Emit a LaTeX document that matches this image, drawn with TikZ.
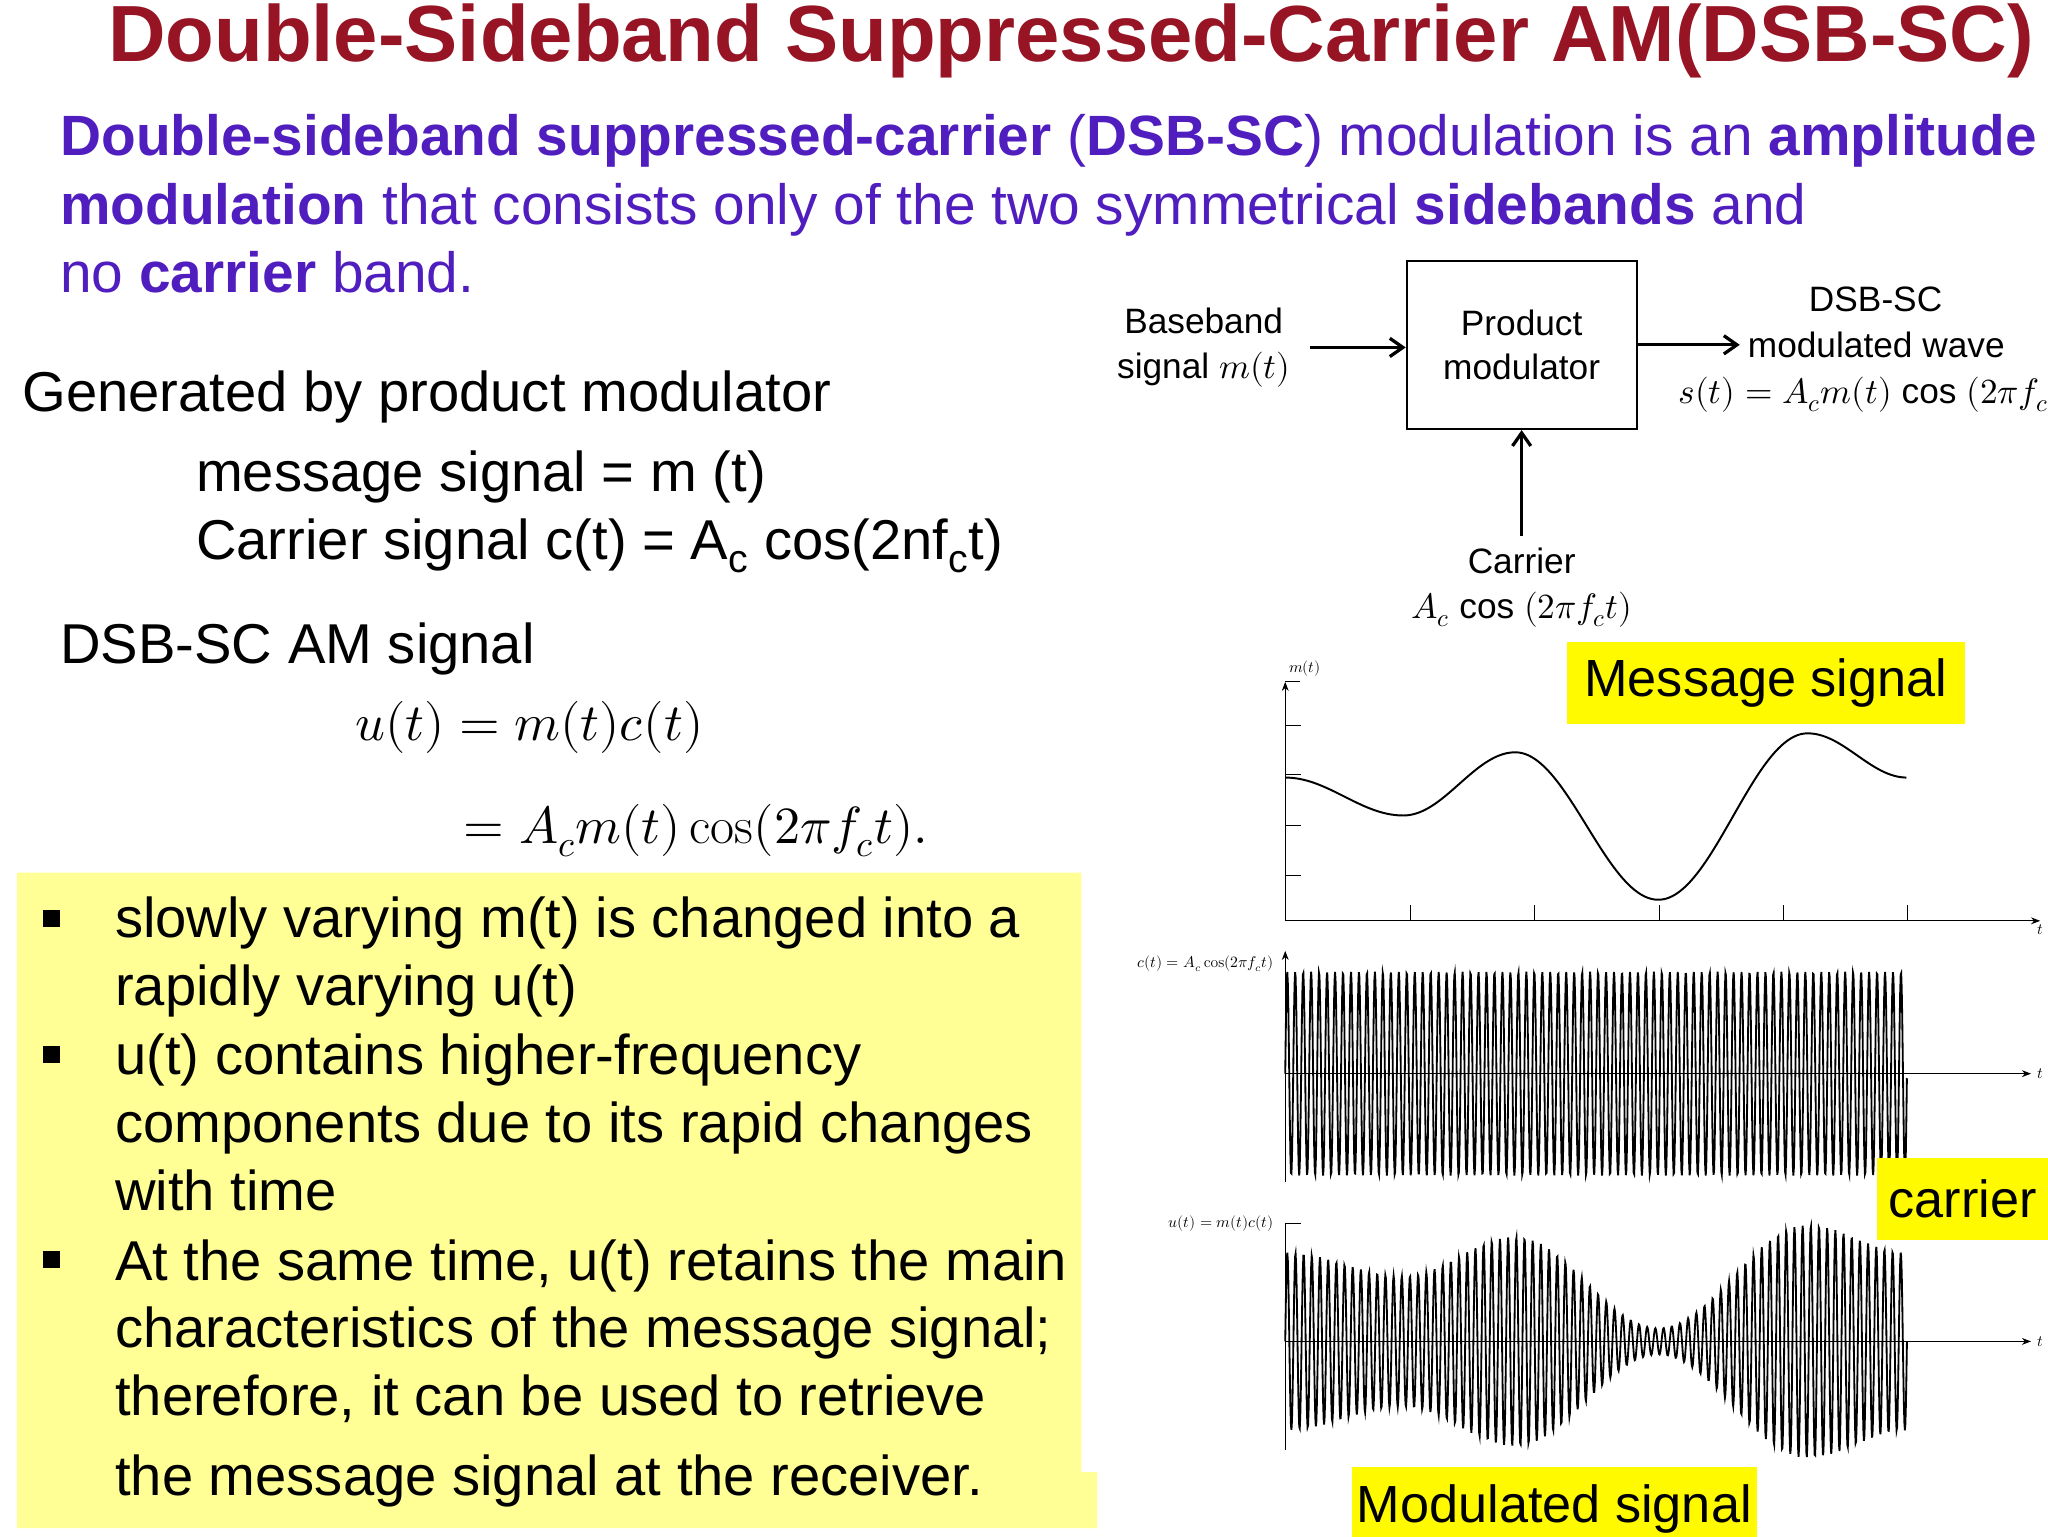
\documentclass[tikz,border=0pt]{standalone}
\usepackage{fontspec}
\usepackage{unicode-math}
\setmainfont{Liberation Sans}
\setmathfont{Latin Modern Math}
\setmathrm{Latin Modern Roman}
\usetikzlibrary{arrows.meta}
\definecolor{ttl}{RGB}{150,20,35}
\definecolor{pur}{RGB}{80,30,190}
\definecolor{ylw}{RGB}{255,255,150}
\definecolor{ylw2}{RGB}{255,250,0}
\tikzset{
  body/.style={anchor=base west,font=\fontsize{43}{50}\selectfont,inner sep=0},
  ptxt/.style={body,text=pur,font=\fontsize{43.5}{50}\selectfont},
  blk/.style={font=\fontsize{27}{34}\selectfont,align=center,inner sep=0},
  tag/.style={fill=ylw2,font=\fontsize{40}{46}\selectfont,inner sep=0,minimum height=63pt},
  small/.style={font=\fontsize{12}{14}\selectfont,inner sep=0},
  arr/.style={-{Straight Barb[length=10pt,width=14pt]},line width=2.5pt},
  ax/.style={-{Stealth[length=7pt]},line width=0.8pt}
}
\pgfmathdeclarefunction{ci}{3}{\pgfmathparse{#1+(#2-#1)*(1-cos(180*#3))/2}}
\pgfmathdeclarefunction{env}{1}{\pgfmathparse{(#1<0.19)?ci(68,50,#1/0.19):((#1<0.37)?ci(50,80,(#1-0.19)/0.18):((#1<0.6)?ci(80,10,(#1-0.37)/0.23):((#1<0.84)?ci(10,89,(#1-0.6)/0.24):ci(89,68,(#1-0.84)/0.16))))}}
\begin{document}
\begin{tikzpicture}[x=1pt,y=-1pt]
\useasboundingbox (0,0) rectangle (1568,1176);
% title
\node[anchor=base,text=ttl,font=\fontsize{61}{68}\selectfont\bfseries,inner sep=0] (title) at (820,47) {Double-Sideband Suppressed-Carrier AM(DSB-SC)};
% paragraph
\node[ptxt] (p1) at (46,119) {\textbf{Double-sideband suppressed-carrier} (\textbf{DSB-SC}) modulation is an \textbf{amplitude}};
\node[ptxt] (p2) at (46,172) {\textbf{modulation} that consists only of the two symmetrical \textbf{sidebands} and};
\node[ptxt] (p3) at (46,224) {no \textbf{carrier} band.};
\node[body] (g1) at (17,315) {Generated by product modulator};
\node[body] (g2) at (150,376) {message signal = m (t)};
\node[body] (g3) at (150,428) {Carrier signal c(t) = A\textsubscript{c} cos(2nf\textsubscript{c}t)};
\node[body] (g4) at (46,508) {DSB-SC AM signal};
\node[anchor=base west,inner sep=0,font=\fontsize{40}{48}\selectfont] (e1) at (272,567) {$u(t)=m(t)c(t)$};
\node[anchor=base west,inner sep=0,font=\fontsize{40}{48}\selectfont] (e2) at (355,646) {$=A_cm(t)\,\mathrm{cos}(2\pi f_ct).$};
% yellow box
\fill[ylw] (13,668) -- (828,668) -- (828,1127) -- (840,1127) -- (840,1170) -- (13,1170) -- cycle;
\foreach \y/\t in {718/{slowly varying m(t) is changed into a},770/{rapidly varying u(t)},823/{u(t) contains higher-frequency},875/{components due to its rapid changes},927/{with time},980/{At the same time, u(t) retains the main},1032/{characteristics of the message signal;},1084/{therefore, it can be used to retrieve},1145/{the message signal at the receiver.}}
  \node[body] at (88,\y) {\t};
\foreach \y in {704,808,965} \fill (33,\y-7) rectangle (46,\y+6);
% block diagram
\node[draw,line width=1.5pt,minimum width=176pt,minimum height=129pt,blk] (pm) at (1165,264) {Product\\modulator};
\node[blk,anchor=east] (bb) at (988,266) {Baseband\\signal $m(t)$};
\coordinate (bbs) at (1003,266);
\draw[arr] (bbs) -- (pm.west |- bbs);
\coordinate (oe) at (1332,264);
\draw[arr] (pm.east |- oe) -- (oe);
\node[blk,anchor=west] (out) at (1338,264) {modulated wave};
\node[blk] (out1) at (1436,229) {DSB-SC};
\node[blk,anchor=west] (out2) at (1285,302) {$s(t)=A_cm(t)$ cos $(2\pi f_c$};
\node[blk] (car) at (1165,450) {Carrier\\$A_c$ cos $(2\pi f_ct)$};
\coordinate (cs) at (1165,410);
\draw[arr] (cs) -- (pm.south);
% message plot
\node[tag,minimum width=305pt] (ms) at (1352,523) {Message signal};
\node[small] (ml) at (999,512) {$m(t)$};
\draw[ax] (984,705) -- (984,522);
\draw[line width=0.6pt] (984,522) -- (995,522);
\draw[ax] (984,705) -- (1562,705);
\node[small] at (1562,712) {$t$};
\foreach \y in {555,593,632,670} \draw (984,\y) -- (996,\y);
\foreach \x in {1080,1175,1270,1365,1460} \draw (\x,705) -- (\x,693);
\draw[line width=1.5pt] plot[domain=0:1,samples=200,smooth] ({984+476*\x},{705-env(\x)/0.62});
% carrier
\node[small,anchor=east] (cl) at (975,738) {$c(t)=A_c\cos(2\pi f_ct)$};
\draw[ax] (984,905) -- (984,728);
\draw[ax] (984,822) -- (1555,822);
\node[small] at (1562,822) {$t$};
\draw[line width=1.4pt] plot[domain=0:78,samples=1200] ({984+6.1026*\x},{822-78*sin(360*mod(\x,1))});
\node[tag,minimum width=131pt,anchor=west] (ct) at (1437,918) {carrier};
% modulated
\node[small,anchor=east] (ul) at (975,937) {$u(t)=m(t)c(t)$};
\draw[line width=0.8pt] (984,1110) -- (984,937) -- (996,937);
\draw[ax] (984,1027) -- (1555,1027);
\node[small] at (1562,1027) {$t$};
\draw[line width=1.4pt] plot[domain=0:76,samples=1200] ({984+6.263*\x},{1027-env(\x/76)*sin(360*mod(\x,1))});
\node[tag,minimum width=310pt] (mt) at (1190,1155) {Modulated signal};
\end{tikzpicture}
\end{document}
